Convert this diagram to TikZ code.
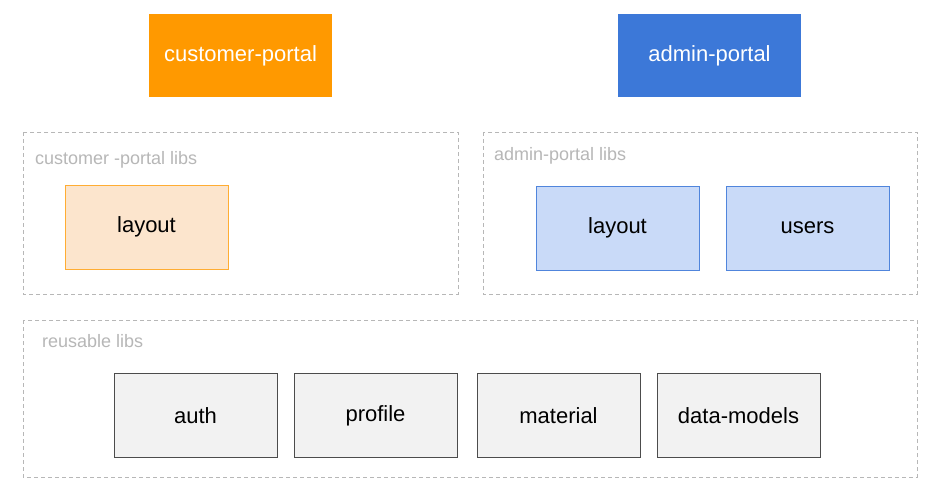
\documentclass[tikz,border=0pt]{standalone}
\usepackage{fontspec}
\setmainfont{Liberation Sans}
\usetikzlibrary{positioning}
\definecolor{custorange}{HTML}{FF9900}
\definecolor{adminblue}{HTML}{3C78D8}
\definecolor{lightorange}{HTML}{FCE5CD}
\definecolor{lightblue}{HTML}{C9DAF8}
\definecolor{libgray}{HTML}{B7B7B7}
\tikzset{
  portal/.style={minimum width=183pt, minimum height=83pt, inner sep=0pt, text=white, font=\fontsize{22}{26}\selectfont},
  libgroup/.style={draw=libgray, dashed, line width=0.9pt, dash pattern=on 4pt off 3pt},
  grouplabel/.style={anchor=west, text=libgray, font=\fontsize{18}{22}\selectfont, inner sep=0pt},
  libbox/.style={minimum width=163pt, minimum height=84pt, inner sep=0pt, line width=1pt, font=\fontsize{22}{26}\selectfont},
}
\begin{document}
\begin{tikzpicture}[x=1pt,y=-1pt]
        \useasboundingbox[fill=white] (0,0) rectangle (941,501);
        % portals
        \node[portal, fill=custorange] (custportal) at (240.5, 55.5) {customer-portal};
        \node[portal, fill=adminblue] (adminportal) at (709.5, 55.5) {admin-portal};

        % lib groups
        \draw[libgroup] (23,132) rectangle (458,294);
        \node[grouplabel] (custlibs) at (35,160) {customer -portal libs};
        \draw[libgroup] (483,132) rectangle (917,294);
        \node[grouplabel] (adminlibs) at (494,156) {admin-portal libs};
        \draw[libgroup] (23,320) rectangle (917,477);
        \node[grouplabel] (reuselibs) at (42,341) {reusable libs};

        % libs
        \node[libbox, fill=lightorange, draw=custorange!80] (custlayout) at (146.5, 227) {layout};
        \node[libbox, fill=lightblue, draw=adminblue!90] (adminlayout) at (617.5, 228) {layout};
        \node[libbox, fill=lightblue, draw=adminblue!90] (users) at (807.5, 228) {users};
        \node[libbox, fill=black!5, draw=black!70] (auth) at (195.5, 415.5) {auth};
        \node[libbox, fill=black!5, draw=black!70] (profile) at (375.5, 415.5) {profile};
        \node[libbox, fill=black!5, draw=black!70] (material) at (558.5, 415.5) {material};
        \node[libbox, fill=black!5, draw=black!70] (datamodels) at (738.5, 415.5) {data-models};
    \end{tikzpicture}
\end{document}
